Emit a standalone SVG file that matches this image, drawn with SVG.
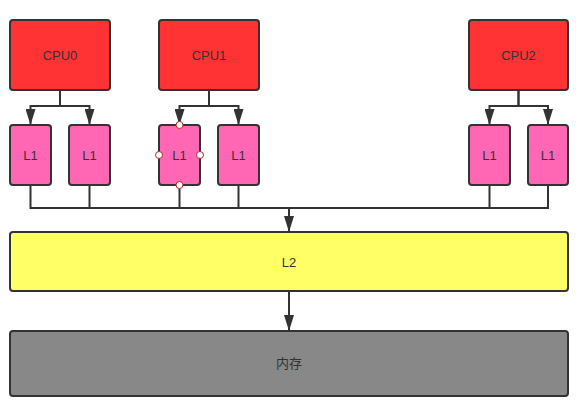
<svg xmlns="http://www.w3.org/2000/svg" width="576" height="406" viewBox="0 0 576 406">
<style>
.box{stroke:#333;stroke-width:2}
.cpu{fill:#ff3333}
.l1{fill:#ff66b3}
.l2{fill:#ffff66}
.mem{fill:#888888}
.t{font-family:"Liberation Sans","Noto Sans CJK SC",sans-serif;font-size:13px;fill:#333;text-anchor:middle;dominant-baseline:central}
.c{fill:none;stroke:#333;stroke-width:2}
.h{fill:#fff;stroke:#b03030;stroke-width:1}
</style>
<defs>
<marker id="ad" markerUnits="userSpaceOnUse" markerWidth="16" markerHeight="10" refX="16" refY="5" orient="auto" viewBox="0 0 16 10">
<path d="M0 0 L16 5 L0 10 Z" fill="#333"/>
</marker>
</defs>
<g id="connectors">
<path class="c" d="M60 90 V106 H30.5 V125" marker-end="url(#ad)"/>
<path class="c" d="M60 90 V106 H89.5 V125" marker-end="url(#ad)"/>
<path class="c" d="M209 90 V106 H179.5 V125" marker-end="url(#ad)"/>
<path class="c" d="M209 90 V106 H238.5 V125" marker-end="url(#ad)"/>
<path class="c" d="M518.5 90 V106 H489.5 V125" marker-end="url(#ad)"/>
<path class="c" d="M518.5 90 V106 H548 V125" marker-end="url(#ad)"/>
<path class="c" d="M30.5 185 V208 H548 V185"/>
<path class="c" d="M89.5 185 V208"/>
<path class="c" d="M179.5 185 V208"/>
<path class="c" d="M238.5 185 V208"/>
<path class="c" d="M489.5 185 V208"/>
<path class="c" d="M289 208 V232" marker-end="url(#ad)"/>
<path class="c" d="M289 291 V331" marker-end="url(#ad)"/>
</g>
<g id="cpu0"><rect class="box cpu" x="10" y="20" width="100" height="70" rx="3"/><text class="t" x="60" y="55">CPU0</text></g>
<g id="cpu1"><rect class="box cpu" x="159" y="20" width="100" height="70" rx="3"/><text class="t" x="209" y="55">CPU1</text></g>
<g id="cpu2"><rect class="box cpu" x="469" y="20" width="99" height="70" rx="3"/><text class="t" x="518.5" y="55">CPU2</text></g>
<g id="l1a"><rect class="box l1" x="10" y="125" width="41" height="60" rx="3"/><text class="t" x="30.5" y="155">L1</text></g>
<g id="l1b"><rect class="box l1" x="69" y="125" width="41" height="60" rx="3"/><text class="t" x="89.5" y="155">L1</text></g>
<g id="l1c"><rect class="box l1" x="159" y="125" width="41" height="60" rx="3"/><text class="t" x="179.5" y="155">L1</text>
<circle class="h" cx="179.5" cy="125" r="3.5"/><circle class="h" cx="179.5" cy="185" r="3.5"/><circle class="h" cx="159" cy="155" r="3.5"/><circle class="h" cx="200" cy="155" r="3.5"/></g>
<g id="l1d"><rect class="box l1" x="218" y="125" width="41" height="60" rx="3"/><text class="t" x="238.5" y="155">L1</text></g>
<g id="l1e"><rect class="box l1" x="469" y="125" width="41" height="60" rx="3"/><text class="t" x="489.5" y="155">L1</text></g>
<g id="l1f"><rect class="box l1" x="528" y="125" width="40" height="60" rx="3"/><text class="t" x="548" y="155">L1</text></g>
<g id="l2"><rect class="box l2" x="10" y="232" width="558" height="59" rx="3"/><text class="t" x="289" y="262">L2</text></g>
<g id="mem"><rect class="box mem" x="10" y="331" width="558" height="65" rx="3"/><text class="t" x="289" y="363">内存</text></g>
</svg>
